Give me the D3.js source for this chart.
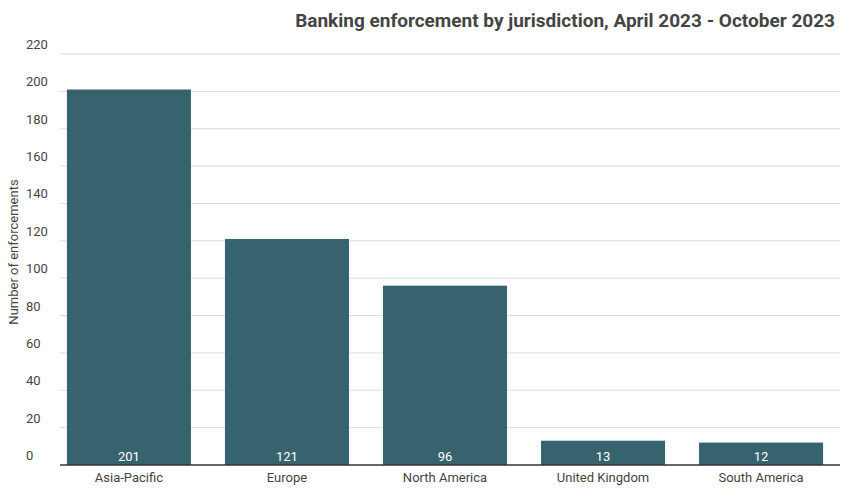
<!DOCTYPE html>
<html><head><meta charset="utf-8">
<script src="https://cdn.jsdelivr.net/npm/d3@7"></script>
<style>body{margin:0;background:#fff;font-family:Roboto,"Noto Sans",sans-serif;}</style>
</head><body><svg id="c" width="842" height="492"></svg>
<script>
'use strict';
var categories = ['Asia-Pacific', 'Europe', 'North America', 'United Kingdom', 'South America'];
var values = [201, 121, 96, 13, 12];
var yTicks = [0, 20, 40, 60, 80, 100, 120, 140, 160, 180, 200, 220];

var svg = d3.select('#c');
var x = d3.scaleBand().domain(categories).range([50, 840]).paddingInner(0.215).paddingOuter(0.107);
var y = d3.scaleLinear().domain([0, 220]).range([465, 54]);

svg.append('text').attr('x', 835).attr('y', 27).attr('text-anchor', 'end')
  .attr('font-size', 19).attr('font-weight', 'bold').attr('fill', '#444')
  .text('Banking enforcement by jurisdiction, April 2023 - October 2023');

var g = svg.append('g');
yTicks.forEach(function (t) {
  if (t > 0) g.append('line').attr('x1', 60).attr('x2', 840).attr('y1', y(t)).attr('y2', y(t))
    .attr('stroke', '#ddd').attr('stroke-width', 1);
  g.append('text').attr('x', 26).attr('y', y(t) - 5).attr('font-size', 13).attr('fill', '#444').text(t);
});

svg.append('text').attr('transform', 'translate(18,252) rotate(-90)').attr('text-anchor', 'middle')
  .attr('font-size', 13).attr('fill', '#444').text('Number of enforcements');

svg.selectAll('rect.bar').data(values).enter().append('rect').attr('class', 'bar')
  .attr('x', function (d, i) { return x(categories[i]); })
  .attr('width', x.bandwidth())
  .attr('y', function (d) { return y(d); })
  .attr('height', function (d) { return y(0) - y(d); })
  .attr('fill', '#37636f');

svg.selectAll('text.val').data(values).enter().append('text').attr('class', 'val')
  .attr('x', function (d, i) { return x(categories[i]) + x.bandwidth() / 2; })
  .attr('y', 461).attr('text-anchor', 'middle').attr('font-size', 13).attr('fill', '#fff')
  .text(function (d) { return d; });

svg.append('line').attr('x1', 60).attr('x2', 840).attr('y1', y(0)).attr('y2', y(0))
  .attr('stroke', '#333').attr('stroke-width', 1.5);

svg.selectAll('text.cat').data(categories).enter().append('text').attr('class', 'cat')
  .attr('x', function (d) { return x(d) + x.bandwidth() / 2; })
  .attr('y', 482).attr('text-anchor', 'middle').attr('font-size', 13).attr('fill', '#444')
  .text(function (d) { return d; });
</script></body></html>
